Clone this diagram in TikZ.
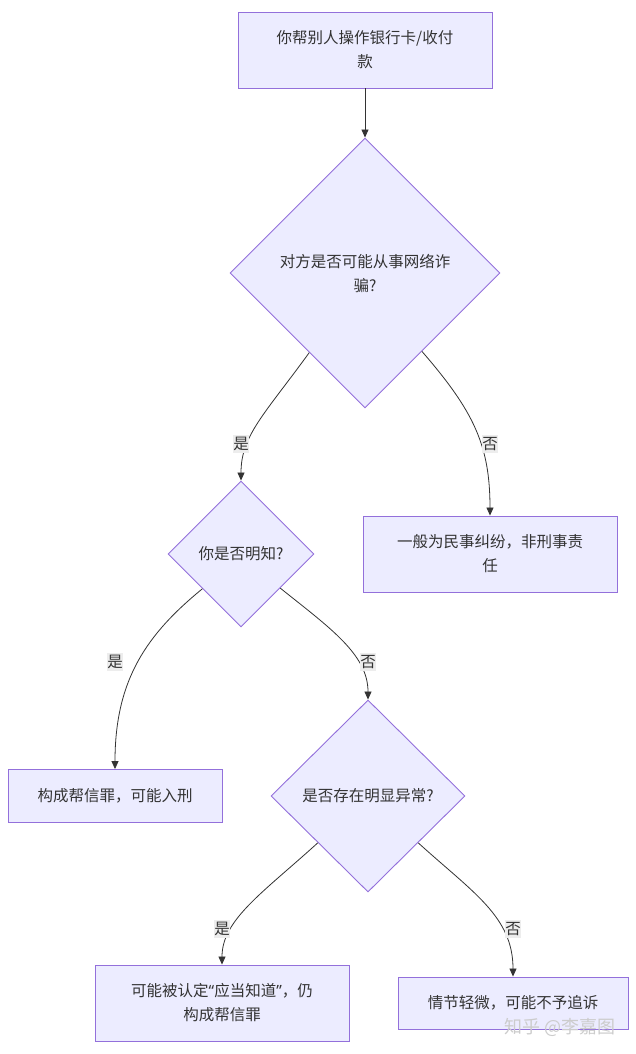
\documentclass[tikz,border=0pt]{standalone}
\usepackage{fontspec}
\setmainfont{Noto Sans CJK SC}
\newfontfamily\latinfont{Noto Sans}
\usetikzlibrary{shapes.geometric,arrows.meta}

\definecolor{nodefill}{HTML}{ECECFF}
\definecolor{nodeline}{HTML}{9370DB}
\definecolor{inkgray}{HTML}{333333}
\definecolor{lblfill}{HTML}{EDEDED}

\tikzset{
  txt/.style={text=inkgray, font=\fontsize{15.5}{24}\selectfont, align=center},
  box/.style={txt, rectangle, draw=nodeline, fill=nodefill, line width=0.9pt, inner sep=0pt},
  decision/.style={txt, diamond, aspect=1, draw=nodeline, fill=nodefill, line width=0.9pt, inner sep=0pt},
  flow/.style={draw=inkgray, line width=0.8pt, -{Triangle[length=8pt,width=7pt]}},
  lbl/.style={txt, fill=lblfill, inner xsep=0.5pt, inner ysep=2.5pt}
}

\begin{document}
\begin{tikzpicture}[x=1pt,y=-1pt]
\useasboundingbox (0,0) rectangle (636,1054);

% nodes
\node[box, minimum width=254, minimum height=76] (help) at (365,50) {你帮别人操作银行卡/收付\\款};
\node[decision, minimum width=270, minimum height=270] (fraud) at (365,273) {对方是否可能从事网络诈\\骗?};
\node[decision, minimum width=146, minimum height=146] (knowing) at (241,554) {你是否明知?};
\node[box, minimum width=254, minimum height=76] (civil) at (490,554) {一般为民事纠纷，非刑事责\\任};
\node[box, minimum width=214, minimum height=53] (crime) at (115,796) {构成帮信罪，可能入刑};
\node[decision, minimum width=194, minimum height=192] (abnormal) at (368,796) {是否存在明显异常?};
\node[box, minimum width=254, minimum height=76] (shouldknow) at (222,1003) {可能被认定{\latinfont “}应当知道{\latinfont ”}，仍\\构成帮信罪};
\node[box, minimum width=230, minimum height=52] (minor) at (513,1003) {情节轻微，可能不予追诉};

% connectors
\draw[flow] (help) -- (fraud);
\draw[flow] (fraud.235) .. controls +(-45,62) and +(0,-45) .. (knowing.north);
\draw[flow] (fraud.306) .. controls +(52,60) and +(0,-70) .. (civil.north);
\draw[flow] (knowing.222) .. controls +(-55,45) and +(0,-90) .. (crime.north);
\draw[flow] (knowing.319) .. controls +(50,40) and +(0,-45) .. (abnormal.north);
\draw[flow] (abnormal.223) .. controls +(-55,50) and +(0,-45) .. (shouldknow.north);
\draw[flow] (abnormal.317) .. controls +(55,50) and +(0,-60) .. (minor.north);

% edge labels
\node[lbl] (yes1) at (241,444) {是};
\node[lbl] (no1) at (490,444) {否};
\node[lbl] (yes2) at (115,662) {是};
\node[lbl] (no2) at (368,662) {否};
\node[lbl] (yes3) at (222,929) {是};
\node[lbl] (no3) at (513,929) {否};

% watermark
\node[text=gray!40, font=\fontsize{18}{18}\selectfont] (mark) at (560,1027) {知乎 @李嘉图};
\end{tikzpicture}
\end{document}
